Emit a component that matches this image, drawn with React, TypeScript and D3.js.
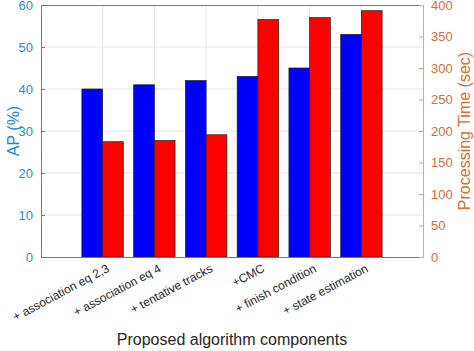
import React, { useEffect, useRef } from 'react';
import * as d3 from 'd3';

const categories = [
  '+ association eq 2,3',
  '+ association eq 4',
  '+ tentative tracks',
  '+CMC',
  '+ finish condition',
  '+ state estimation',
];
const apValues = [40, 41, 42, 43, 45, 53];
const timeValues = [183, 185, 194, 377, 380, 391];
const apTicks = [0, 10, 20, 30, 40, 50, 60];
const timeTicks = [0, 50, 100, 150, 200, 250, 300, 350, 400];

const W = 474;
const H = 351;

export default function App() {
  const svgRef = useRef<SVGSVGElement>(null);

  useEffect(() => {
    const margin = { top: 5, right: 51, bottom: 94, left: 41 };
    const left = margin.left;
    const right = W - margin.right;
    const top = margin.top;
    const bottom = H - margin.bottom;

    const svg = d3.select(svgRef.current);
    svg.selectAll('*').remove();
    const font = '"Liberation Sans", Arial, sans-serif';
    const blue = '#2f8bd3';
    const orange = '#df6a33';

    const x = d3.scalePoint<string>().domain(categories).range([left, right]).padding(1.19);
    const step = x.step();
    const barW = step * 0.4;
    const yL = d3.scaleLinear().domain([0, 60]).range([bottom, top]);
    const yR = d3.scaleLinear().domain([0, 400]).range([bottom, top]);

    const g = svg.append('g');

    // grid
    g.selectAll('line.hg').data(apTicks.slice(1, -1)).enter().append('line')
      .attr('x1', left).attr('x2', right)
      .attr('y1', d => yL(d)).attr('y2', d => yL(d))
      .attr('stroke', '#e6e6e6').attr('stroke-width', 1);
    g.selectAll('line.vg').data(categories).enter().append('line')
      .attr('x1', d => x(d)!).attr('x2', d => x(d)!)
      .attr('y1', top).attr('y2', bottom)
      .attr('stroke', '#e6e6e6').attr('stroke-width', 1);

    // bars
    g.selectAll('rect.ap').data(apValues).enter().append('rect')
      .attr('x', (d, i) => x(categories[i])! - barW)
      .attr('y', d => yL(d))
      .attr('width', barW)
      .attr('height', d => bottom - yL(d))
      .attr('fill', '#0000ff').attr('stroke', '#1a1a3a').attr('stroke-width', 0.7);
    g.selectAll('rect.tm').data(timeValues).enter().append('rect')
      .attr('x', (d, i) => x(categories[i])!)
      .attr('y', d => yR(d))
      .attr('width', barW)
      .attr('height', d => bottom - yR(d))
      .attr('fill', '#ff0000').attr('stroke', '#3a1a1a').attr('stroke-width', 0.7);

    // box lines
    g.append('line').attr('x1', left).attr('x2', right).attr('y1', top + 0.5).attr('y2', top + 0.5)
      .attr('stroke', '#777').attr('stroke-width', 1);
    g.append('line').attr('x1', left).attr('x2', right).attr('y1', bottom + 0.5).attr('y2', bottom + 0.5)
      .attr('stroke', '#777').attr('stroke-width', 1);

    // left axis
    const la = g.append('g').attr('transform', `translate(${left},0)`)
      .call(d3.axisLeft(yL).tickValues(apTicks).tickSize(-4).tickPadding(8));
    la.select('.domain').attr('stroke', blue);
    la.selectAll('.tick line').attr('stroke', blue);
    la.selectAll('.tick text').attr('fill', blue).style('font-family', font).style('font-size', '13px');

    // right axis
    const ra = g.append('g').attr('transform', `translate(${right},0)`)
      .call(d3.axisRight(yR).tickValues(timeTicks).tickSize(-4).tickPadding(8));
    ra.select('.domain').attr('stroke', '#e2a27c');
    ra.selectAll('.tick line').attr('stroke', '#e2a27c');
    ra.selectAll('.tick text').attr('fill', orange).style('font-family', font).style('font-size', '13px');

    // bottom tick marks + labels
    const ba = g.append('g').attr('transform', `translate(0,${bottom})`)
      .call(d3.axisBottom(x).tickSize(0).tickPadding(0));
    ba.select('.domain').remove();
    ba.selectAll('.tick text')
      .attr('fill', '#262626')
      .attr('text-anchor', 'end')
      .attr('dy', 0).attr('y', 0)
      .attr('transform', 'translate(7,14) rotate(-28)')
      .style('font-family', font).style('font-size', '12px');

    // axis titles
    svg.append('text')
      .attr('transform', `translate(19,${(top + bottom) / 2}) rotate(-90)`)
      .attr('text-anchor', 'middle')
      .attr('fill', '#1f86d4')
      .style('font-family', font).style('font-size', '16px')
      .text('AP (%)');
    svg.append('text')
      .attr('transform', `translate(470,${(top + bottom) / 2}) rotate(-90)`)
      .attr('text-anchor', 'middle')
      .attr('fill', orange)
      .style('font-family', font).style('font-size', '16px')
      .text('Processing Time (sec)');
    svg.append('text')
      .attr('x', 232).attr('y', 345)
      .attr('text-anchor', 'middle')
      .attr('fill', '#262626')
      .style('font-family', font).style('font-size', '16px')
      .text('Proposed algorithm components');
  }, []);

  return (
    <svg ref={svgRef} width={W} height={H}
      style={{ position: 'absolute', left: 0, top: 0, background: '#fff' }} />
  );
}
